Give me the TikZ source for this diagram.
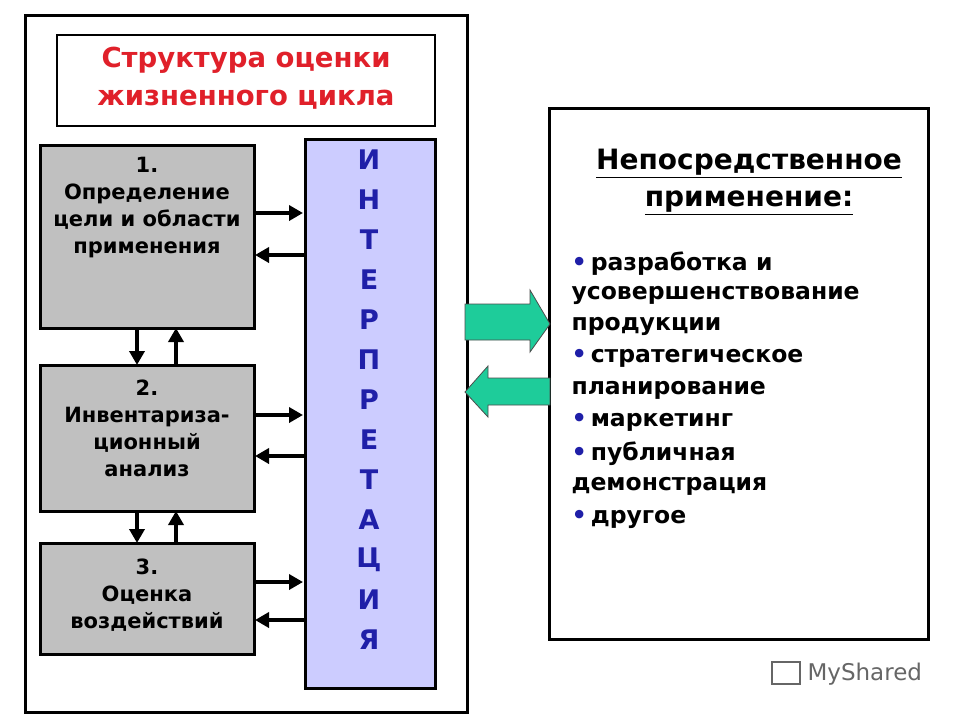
\documentclass[tikz,border=0pt]{standalone}
\usepackage{fontspec}
\setmainfont{DejaVu Sans}
\usetikzlibrary{arrows.meta}
\definecolor{boxgray}{HTML}{C0C0C0}
\definecolor{lav}{HTML}{CCCCFF}
\definecolor{letblue}{HTML}{1F1FA8}
\definecolor{tgreen}{HTML}{1ECC9A}
\definecolor{tred}{HTML}{E0202A}
\begin{document}
\begin{tikzpicture}[x=1pt,y=-1pt,
  frame/.style={draw=black,line width=3pt},
  stage/.style={frame,fill=boxgray},
  lbl/.style={font=\fontsize{21}{27}\selectfont\bfseries,align=center},
  conn/.style={line width=3.5pt,-{Triangle[length=14pt,width=15pt]}},
  bigarrow/.style={draw=black!70,fill=tgreen,line width=0.8pt},
  item/.style={font=\fontsize{23.5}{31}\selectfont\bfseries,anchor=west}]
\useasboundingbox (0,0) rectangle (960,720);
\fill[white] (0,0) rectangle (960,720);
\draw[frame] (25,15) rectangle (467,712);
\draw[line width=2.5pt] (57,35) rectangle (435,126);
\node[font=\fontsize{27.5}{38}\selectfont\bfseries,text=tred,align=center] (title) at (246,78) {Структура оценки\\жизненного цикла};
\draw[stage] (40,145) rectangle (254,328);
\draw[stage] (40,365) rectangle (254,511);
\draw[stage] (40,543) rectangle (254,654);
\node[lbl] (t1) at (147,208) {1.\\Определение\\цели и области\\применения};
\node[lbl] (t2) at (147,428) {2.\\Инвентариза-\\ционный\\анализ};
\node[lbl] (t3) at (147,595) {3.\\Оценка\\воздействий};
\draw[frame,fill=lav] (305,139) rectangle (435,688);
\foreach \l [count=\i] in {И,Н,Т,Е,Р,П,Р,Е,Т,А,Ц,И,Я}
  \node[font=\fontsize{27}{30}\selectfont\bfseries,text=letblue] (L\i) at (369,160+40*\i-40) {\l};
\foreach \ya/\yb in {213/255,415/456,582/620}{
  \coordinate (s) at (254,\ya); \coordinate (e) at (303,\ya);
  \draw[conn] (s) -- (e);
  \coordinate (s) at (305,\yb); \coordinate (e) at (255,\yb);
  \draw[conn] (s) -- (e);}
\foreach \ya/\yb in {328/365,511/543}{
  \coordinate (s) at (137,\ya); \coordinate (e) at (137,\yb);
  \draw[conn] (s) -- (e);
  \coordinate (s) at (176,\yb); \coordinate (e) at (176,\ya);
  \draw[conn] (s) -- (e);}
\draw[frame] (549,108) rectangle (928,639);
\node[font=\fontsize{28}{37}\selectfont\bfseries,align=center] (rt) at (749,182) {\underline{Непосредственное}\\\underline{применение:}};
\def\bul{{\color{letblue}\fontsize{24}{24}\selectfont\textbullet}\,}
\node[item] (i1) at (568,264) {\bul разработка и};
\node[item] (i1b) at (568,295) {усовершенствование};
\node[item] (i1c) at (568,326) {продукции};
\node[item] (i2) at (568,358) {\bul стратегическое};
\node[item] (i2b) at (568,390) {планирование};
\node[item] (i3) at (568,422) {\bul маркетинг};
\node[item] (i4) at (568,454) {\bul публичная};
\node[item] (i4b) at (568,486) {демонстрация};
\node[item] (i5) at (568,519) {\bul другое};
\draw[bigarrow] (465,304)--(530,304)--(530,290)--(550,324)--(530,352)--(530,340)--(465,340)--cycle;
\draw[bigarrow] (550,378)--(488,378)--(488,366)--(465,392)--(488,417)--(488,405)--(550,405)--cycle;
\node[font=\fontsize{23}{28}\selectfont,text=black!60,anchor=west] (wm) at (804,674) {MyShared};
\draw[black!60,line width=1.5pt] (772,662) rectangle (800,684);
\end{tikzpicture}
\end{document}
